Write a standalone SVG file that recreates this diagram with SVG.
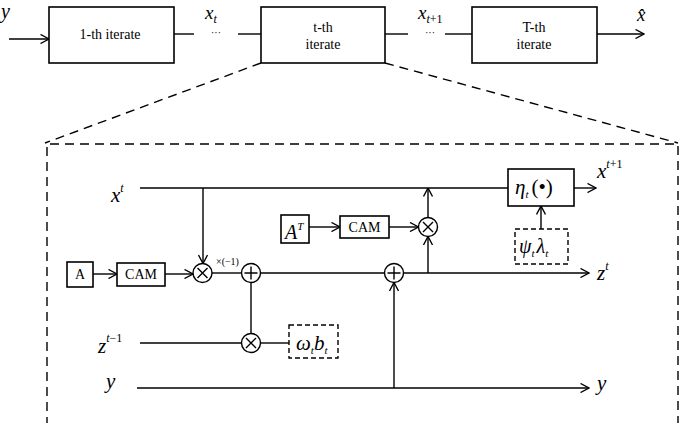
<svg xmlns="http://www.w3.org/2000/svg" width="685" height="423" viewBox="0 0 685 423">
<defs>
<style>
.box{fill:#fff;stroke:#000;stroke-width:1.6}
.dbox{fill:#fff;stroke:#000;stroke-width:1.4;stroke-dasharray:5 3}
.ln{fill:none;stroke:#000;stroke-width:1.4}
.arr{fill:none;stroke:#000;stroke-width:1.4;marker-end:url(#ah)}
.dash{fill:none;stroke:#000;stroke-width:1.4;stroke-dasharray:9 6}
.t{font-family:"Liberation Serif",serif;fill:#000}
.m{font-family:"Liberation Serif",serif;font-style:italic;fill:#000}
.op{fill:#fff;stroke:#000;stroke-width:1.4}
</style>
<marker id="ah" viewBox="0 0 10 10" refX="9.5" refY="5" markerWidth="10" markerHeight="10" markerUnits="userSpaceOnUse" orient="auto">
<path d="M1,0.5 L9.5,5 L1,9.5" fill="none" stroke="#000" stroke-width="1.4"/>
</marker>
<g id="mul"><circle r="9.5" class="op"/><path d="M-5,-5 L5,5 M-5,5 L5,-5" class="ln" stroke-width="1.2"/></g>
<g id="add"><circle r="9.5" class="op"/><path d="M-6.5,0 H6.5 M0,-6.5 V6.5" class="ln" stroke-width="1.2"/></g>
</defs>
<rect width="685" height="423" fill="#fff"/>

<g id="zoom-frame">
<path class="dash" d="M261,63 L45,143"/>
<path class="dash" d="M385,63 L678,143"/>
<path class="dash" d="M47,426 V144 H678 V426"/>
</g>

<g id="connectors">
<path class="arr" d="M9,39 H49"/>
<path class="ln" d="M174,34 H194"/>
<path class="ln" d="M238,34 H261"/>
<path class="ln" d="M385,34 H408"/>
<path class="ln" d="M445,34 H472"/>
<path class="arr" d="M597,34 H644"/>

<path class="ln" d="M140,188 H508"/>
<path class="arr" d="M203,188 V263.5"/>
<path class="arr" d="M93,274 H117"/>
<path class="arr" d="M165,274 H193"/>
<path class="ln" d="M212,273 H241.5"/>
<path class="ln" d="M260.5,273 H384.5"/>
<path class="arr" d="M403.5,273 H589"/>
<path class="ln" d="M251,282.5 V333.5"/>
<path class="ln" d="M140,343 H241.5"/>
<path class="ln" d="M260.5,343 H289"/>
<path class="arr" d="M137,388 H589"/>
<path class="arr" d="M394,388 V282.5"/>
<path class="arr" d="M309,227 H340"/>
<path class="arr" d="M389,227 H418.5"/>
<path class="arr" d="M428,273 V236.5"/>
<path class="arr" d="M428,217.5 V188"/>
<path class="arr" d="M574,188 H596"/>
<path class="arr" d="M541,229 V206"/>
</g>

<g id="iter1"><rect class="box" x="49" y="7" width="125" height="56"/><text class="t" x="110" y="39" font-size="14" text-anchor="middle">1-th iterate</text></g>
<g id="iter2"><rect class="box" x="261" y="7" width="124" height="56"/><text class="t" x="323" y="32" font-size="14" text-anchor="middle">t-th</text><text class="t" x="323" y="49" font-size="14" text-anchor="middle">iterate</text></g>
<g id="iter3"><rect class="box" x="472" y="7" width="125" height="56"/><text class="t" x="534" y="32" font-size="14" text-anchor="middle">T-th</text><text class="t" x="534" y="49" font-size="14" text-anchor="middle">iterate</text></g>
<g id="top-labels">
<text class="m" x="1" y="18" font-size="20">y</text>
<text class="t" x="216" y="36" font-size="10" text-anchor="middle">···</text>
<text class="t" x="430" y="36" font-size="10" text-anchor="middle">···</text>
<text class="m" x="205" y="19" font-size="19">x<tspan font-size="12" dy="4">t</tspan></text>
<text class="m" x="418" y="19" font-size="19">x<tspan font-size="12" dy="4">t</tspan><tspan font-style="normal" font-size="12">+1</tspan></text>
<text class="m" x="637" y="21" font-size="19">x̂</text>
</g>

<g id="boxA"><rect class="box" x="67" y="262" width="26" height="25"/><text class="t" x="80" y="279" font-size="14" text-anchor="middle">A</text></g>
<g id="cam1"><rect class="box" x="117" y="263" width="48" height="23"/><text class="t" x="141" y="279" font-size="14" text-anchor="middle">CAM</text></g>
<g id="mult1"><use href="#mul" x="202.5" y="273"/></g>
<text class="t" x="216" y="265" font-size="10">×(−1)</text>
<g id="plus1"><use href="#add" x="251" y="273"/></g>
<g id="mult2"><use href="#mul" x="251" y="343"/></g>
<g id="wb"><rect class="dbox" x="289" y="325" width="49" height="33"/><text class="m" x="296" y="350" font-size="21">ω<tspan font-size="11" dy="4">t</tspan><tspan dy="-4">b</tspan><tspan font-size="11" dy="4">t</tspan></text></g>
<g id="AT"><rect class="box" x="281" y="215" width="28" height="28"/><text class="m" x="285" y="239" font-size="20">A<tspan font-size="11" dy="-9">T</tspan></text></g>
<g id="cam2"><rect class="box" x="340" y="216" width="49" height="22"/><text class="t" x="364.5" y="232" font-size="14" text-anchor="middle">CAM</text></g>
<g id="mult3"><use href="#mul" x="428" y="227"/></g>
<g id="plus2"><use href="#add" x="394" y="273"/></g>
<g id="eta"><rect class="box" x="508" y="169" width="66" height="37"/><text class="m" x="515" y="194" font-size="21">η<tspan font-size="11" dy="4">t</tspan><tspan font-style="normal" dy="-4" dx="3">(•)</tspan></text></g>
<g id="psi"><rect class="dbox" x="515" y="229" width="53" height="35"/><text class="m" x="519" y="253" font-size="20">ψ<tspan font-size="11" dy="4">t</tspan><tspan dy="-4" dx="2">λ</tspan><tspan font-size="11" dy="4">t</tspan></text></g>

<g id="inner-labels">
<text class="m" x="111" y="202" font-size="21">x<tspan font-size="12" dy="-10">t</tspan></text>
<text class="m" x="98" y="353" font-size="21">z<tspan font-size="12" dy="-11">t</tspan><tspan font-style="normal" font-size="12">−1</tspan></text>
<text class="m" x="106" y="388" font-size="21">y</text>
<text class="m" x="597" y="280" font-size="21">z<tspan font-size="12" dy="-10">t</tspan></text>
<text class="m" x="597" y="390" font-size="21">y</text>
<text class="m" x="597" y="178" font-size="21">x<tspan font-size="12" dy="-10">t</tspan><tspan font-style="normal" font-size="12">+1</tspan></text>
</g>
</svg>
